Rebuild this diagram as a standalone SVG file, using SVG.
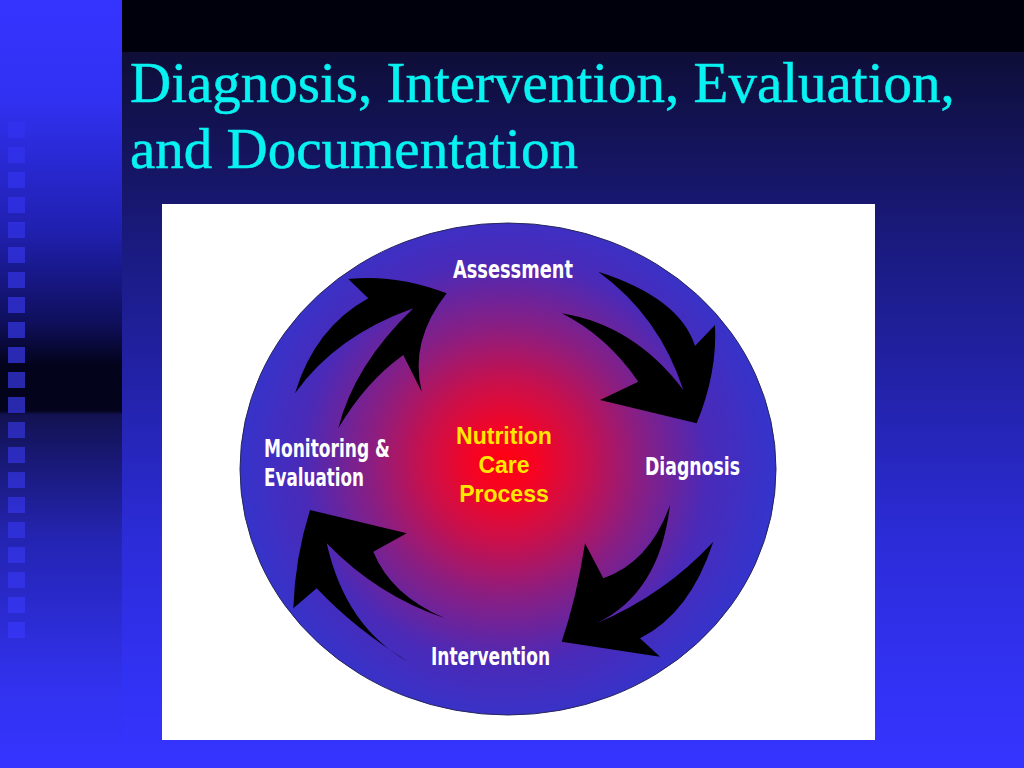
<svg xmlns="http://www.w3.org/2000/svg" width="1024" height="768" viewBox="0 0 1024 768">
  <defs>
    <linearGradient id="stripBg" gradientUnits="userSpaceOnUse" x1="0" y1="0" x2="0" y2="768">
      <stop offset="0" stop-color="#3434ff"/>
      <stop offset="0.13" stop-color="#3131f2"/>
      <stop offset="0.3" stop-color="#2020b0"/>
      <stop offset="0.42" stop-color="#0f0f5c"/>
      <stop offset="0.475" stop-color="#03031c"/>
      <stop offset="0.535" stop-color="#03031c"/>
      <stop offset="0.54" stop-color="#121252"/>
      <stop offset="0.7" stop-color="#2424b2"/>
      <stop offset="0.9" stop-color="#3232f0"/>
      <stop offset="1" stop-color="#3434ff"/>
    </linearGradient>
    <linearGradient id="squareFill" gradientUnits="userSpaceOnUse" x1="0" y1="122" x2="0" y2="640">
      <stop offset="0" stop-color="#3131ee"/>
      <stop offset="0.15" stop-color="#2e2ee0"/>
      <stop offset="0.52" stop-color="#2828a8"/>
      <stop offset="0.75" stop-color="#2e2ed2"/>
      <stop offset="1" stop-color="#3535f2"/>
    </linearGradient>
    <linearGradient id="mainBg" gradientUnits="userSpaceOnUse" x1="0" y1="52" x2="0" y2="768">
      <stop offset="0" stop-color="#0e0e38"/>
      <stop offset="0.27" stop-color="#1a1a80"/>
      <stop offset="0.46" stop-color="#2222a8"/>
      <stop offset="0.68" stop-color="#2c2cd8"/>
      <stop offset="0.89" stop-color="#3232f5"/>
      <stop offset="1" stop-color="#3434ff"/>
    </linearGradient>
    <radialGradient id="circleFill" gradientUnits="userSpaceOnUse" cx="505" cy="462" r="270" fx="505" fy="462">
      <stop offset="0" stop-color="#ff0010"/>
      <stop offset="0.12" stop-color="#f50424"/>
      <stop offset="0.3" stop-color="#c8104c"/>
      <stop offset="0.5" stop-color="#8a1e82"/>
      <stop offset="0.75" stop-color="#4a2ab8"/>
      <stop offset="1" stop-color="#3434cc"/>
    </radialGradient>
    <style>
      .title { font-family: "Liberation Serif", "Times New Roman", serif; font-size: 57px; fill: #08f2f2; stroke: #08f2f2; stroke-width: 0.5px; }
      .stage { font-family: "DejaVu Sans Condensed", "Liberation Sans Narrow", "DejaVu Sans", sans-serif; font-weight: bold; font-size: 24px; fill: #ffffff; }
      .center { font-family: "Liberation Sans", Arial, sans-serif; font-weight: bold; font-size: 23px; fill: #ffe800; text-anchor: middle; }
      .arrow { fill: #000000; }
      .sq { fill: url(#squareFill); }
    </style>
  </defs>

  <!-- background -->
  <rect x="0" y="0" width="1024" height="768" fill="url(#mainBg)"/>
  <rect x="122" y="0" width="902" height="52" fill="#00000c"/>
  <rect x="0" y="0" width="122" height="768" fill="url(#stripBg)"/>
  <g id="squares">
    <rect class="sq" x="8" y="122" width="17" height="16"/>
    <rect class="sq" x="8" y="147" width="17" height="16"/>
    <rect class="sq" x="8" y="172" width="17" height="16"/>
    <rect class="sq" x="8" y="197" width="17" height="16"/>
    <rect class="sq" x="8" y="222" width="17" height="16"/>
    <rect class="sq" x="8" y="247" width="17" height="16"/>
    <rect class="sq" x="8" y="272" width="17" height="16"/>
    <rect class="sq" x="8" y="297" width="17" height="16"/>
    <rect class="sq" x="8" y="322" width="17" height="16"/>
    <rect class="sq" x="8" y="347" width="17" height="16"/>
    <rect class="sq" x="8" y="372" width="17" height="16"/>
    <rect class="sq" x="8" y="397" width="17" height="16"/>
    <rect class="sq" x="8" y="422" width="17" height="16"/>
    <rect class="sq" x="8" y="447" width="17" height="16"/>
    <rect class="sq" x="8" y="472" width="17" height="16"/>
    <rect class="sq" x="8" y="497" width="17" height="16"/>
    <rect class="sq" x="8" y="522" width="17" height="16"/>
    <rect class="sq" x="8" y="547" width="17" height="16"/>
    <rect class="sq" x="8" y="572" width="17" height="16"/>
    <rect class="sq" x="8" y="597" width="17" height="16"/>
    <rect class="sq" x="8" y="622" width="17" height="16"/>
  </g>

  <!-- title -->
  <text class="title" x="130" y="102">Diagnosis, Intervention, Evaluation,</text>
  <text class="title" x="130" y="168">and Documentation</text>

  <!-- diagram panel -->
  <rect x="162" y="204" width="713" height="536" fill="#ffffff"/>
  <ellipse id="cycle" cx="508" cy="469" rx="268" ry="246" fill="url(#circleFill)" stroke="#26265a" stroke-width="1"/>

  <g id="connectors">
    <path class="arrow" d="M348.3,279 Q395.9,273.8 446.7,293.3 Q409.2,340.9 421.7,391.7 L403.3,355 Q365.8,381.7 338.3,428.3 Q354.2,365 413.3,308.3 Q335.8,335.8 295,393.3 Q315,327.5 368.3,298.3 Z"/>
    <path class="arrow" d="M598.3,271.7 Q680,297.9 695,346 L715,325 Q717.5,372.5 696.7,423.3 L600,400 L638.3,381.7 Q606.7,335.8 561.7,313.3 Q634.2,325 683.3,390 Q659.2,315.8 598.3,271.7 Z"/>
    <path class="arrow" d="M585,543.3 L603.3,578.3 Q650,561.7 670,505 Q660,592.5 596.7,623.3 Q665,594.2 713.3,541.7 Q690,613.3 640,638.3 L660,656.7 L561.7,641.7 Q576.7,597.5 585,543.3 Z"/>
    <path class="arrow" d="M310,510 L406.7,533.3 L373.3,551.7 Q390.8,595 445,618.3 Q377.5,595.8 326.7,543.3 Q345.8,627.5 408.3,661.7 Q354.2,628.3 316.7,588.3 L293.3,608.3 Q295,557.5 310,510 Z"/>
  </g>

  <g id="assessment">
    <text class="stage" x="453" y="278" textLength="120" lengthAdjust="spacingAndGlyphs">Assessment</text>
  </g>
  <g id="diagnosis">
    <text class="stage" x="645" y="475" textLength="95" lengthAdjust="spacingAndGlyphs">Diagnosis</text>
  </g>
  <g id="intervention">
    <text class="stage" x="431" y="665" textLength="119" lengthAdjust="spacingAndGlyphs">Intervention</text>
  </g>
  <g id="monitoring">
    <text class="stage" x="264" y="457" textLength="126" lengthAdjust="spacingAndGlyphs">Monitoring &amp;</text>
    <text class="stage" x="264" y="486" textLength="100" lengthAdjust="spacingAndGlyphs">Evaluation</text>
  </g>
  <g id="nutrition-care-process">
    <text class="center" x="504" y="444">Nutrition</text>
    <text class="center" x="504" y="472.5">Care</text>
    <text class="center" x="504" y="501.5">Process</text>
  </g>
</svg>
